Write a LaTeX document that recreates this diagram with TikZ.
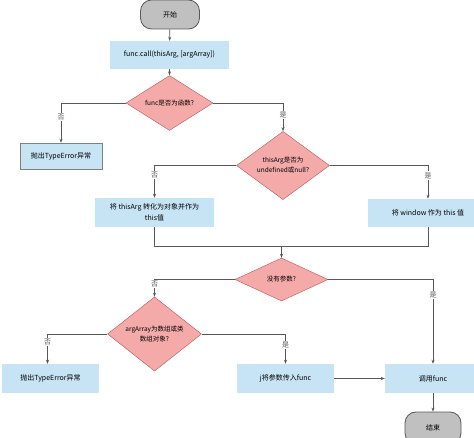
\documentclass[tikz,border=0pt]{standalone}
\usepackage{fontspec}
\setmainfont{Noto Sans CJK SC}
\usetikzlibrary{shapes.geometric,arrows.meta}
\definecolor{boxblue}{RGB}{199,228,245}
\definecolor{decred}{RGB}{244,170,168}
\definecolor{decline}{RGB}{184,86,82}
\definecolor{termgray}{RGB}{192,192,192}
\definecolor{flowgray}{RGB}{88,88,88}
\tikzset{
    procbox/.style={rectangle,fill=boxblue,inner sep=1pt,align=center,font=\fontsize{7}{11}\selectfont},
    decision/.style={diamond,fill=decred,draw=decline,inner sep=0pt,align=center,font=\fontsize{6.5}{10}\selectfont},
    terminal/.style={rectangle,rounded corners=11pt,fill=termgray,draw=flowgray,thick,font=\fontsize{7}{9}\selectfont},
    flow/.style={draw=flowgray,thick,-{Stealth[length=4pt,width=3pt]}},
    branch/.style={fill=white,inner sep=1pt,font=\fontsize{7}{9}\selectfont,text=flowgray}
}
\begin{document}
\begin{tikzpicture}[x=1pt,y=-1pt]
    \useasboundingbox (0,0) rectangle (474,438);

        % boxes
        \node[terminal,minimum width=59pt,minimum height=29pt] (start) at (170,14.5) {开始};
        \node[procbox,minimum width=119pt,minimum height=28pt] (call) at (169.5,55) {func.call(thisArg, [argArray])};
        \node[decision,minimum width=87pt,minimum height=38pt] (d1) at (169.5,103) {func是否为函数?};
        \node[procbox,draw=gray,minimum width=82pt,minimum height=26pt] (err1) at (61,156) {抛出TypeError异常};
        \node[decision,minimum width=93pt,minimum height=43pt] (d2) at (283,165.5) {thisArg是否为\\undefined或null?};
        \node[procbox,minimum width=119pt,minimum height=29pt] (thisobj) at (154.5,212.5) {将 thisArg 转化为对象并作为\\this值};
        \node[procbox,minimum width=120pt,minimum height=28pt] (win) at (428,213) {将 window 作为 this 值};
        \coordinate (merge) at (281.5,246);
        \node[decision,minimum width=93pt,minimum height=43pt] (d3) at (281.5,279.5) {没有参数?};
        \node[decision,minimum width=94pt,minimum height=43pt] (d4) at (154.5,334) {argArray为数组或类\\数组对象?};
        \node[procbox,minimum width=97pt,minimum height=29pt] (err2) at (50.5,378.5) {抛出TypeError异常};
        \node[procbox,minimum width=97pt,minimum height=29pt] (pass) at (285.5,378.5) {j将参数传入func};
        \node[procbox,minimum width=96pt,minimum height=29pt] (invoke) at (433,378.5) {调用func};
        \node[terminal,minimum width=56pt,minimum height=32pt] (end) at (433,428) {结束};

        % connectors
        \path[flow] (start) -- (call);
        \path[flow] (call) -- (d1);
        \path[flow] (d1.west) -| node[branch,pos=0.675] {否} (err1.north);
        \path[flow] (d1.east) -| node[branch,pos=0.71] {是} (d2.north);
        \path[flow] (d2.west) -| node[branch,pos=0.65] {否} (thisobj.north);
        \path[flow] (d2.east) -| node[branch,pos=0.65] {是} (win.north);
        \draw[flowgray,thick] (thisobj.south) |- (merge);
        \draw[flowgray,thick] (win.south) |- (merge);
        \path[flow] (merge) -- (d3.north);
        \path[flow] (d3.west) -| node[branch,pos=0.64] {否} (d4.north);
        \path[flow] (d3.east) -| node[branch,pos=0.59] {是} (invoke.north);
        \path[flow] (d4.west) -| node[branch,pos=0.63] {否} ([xshift=-3pt]err2.north);
        \path[flow] (d4.east) -| node[branch,pos=0.68] {是} (pass.north);
        \path[flow] (pass) -- (invoke);
        \path[flow] (invoke) -- (end);

    \end{tikzpicture}
\end{document}
